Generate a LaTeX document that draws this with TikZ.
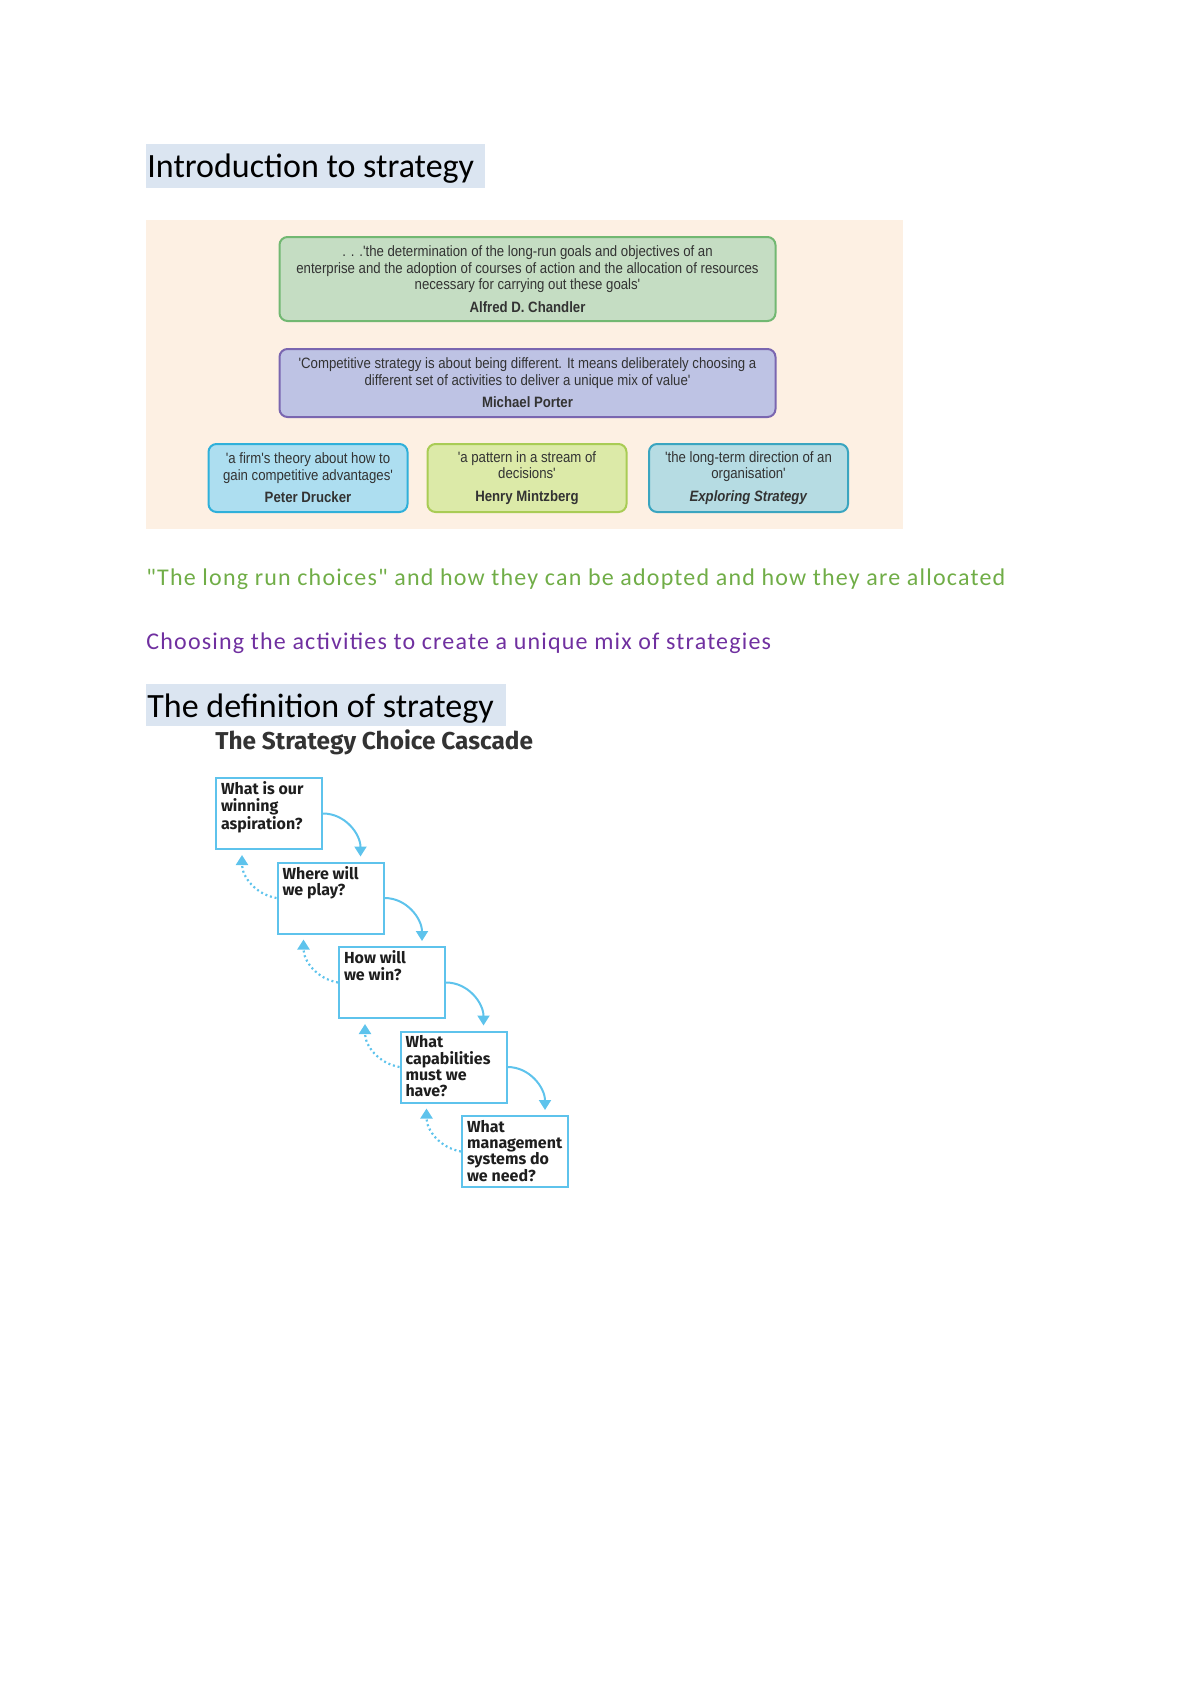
\documentclass[tikz,border=0pt]{standalone}
\usepackage{fontspec}
\setmainfont{Carlito}
\newfontfamily\notefont[LetterSpace=5]{Carlito}
\newfontfamily\quotefont[FakeStretch=0.88]{Liberation Sans}
\newfontfamily\cascadefont{Fira Sans}
\usepackage{tikz}
\tikzset{>=latex}
\usetikzlibrary{arrows.meta}
\definecolor{headblue}{HTML}{DBE5F1}
\definecolor{panelpeach}{HTML}{FDF0E3}
\definecolor{quotegray}{HTML}{333333}
\definecolor{chandlerfill}{HTML}{C5DDC3}
\definecolor{chandlerline}{HTML}{72B872}
\definecolor{porterfill}{HTML}{BEC3E4}
\definecolor{porterline}{HTML}{7A66B0}
\definecolor{druckerfill}{HTML}{ADDEF0}
\definecolor{druckerline}{HTML}{2FB0DA}
\definecolor{mintzfill}{HTML}{DCEAA8}
\definecolor{mintzline}{HTML}{A9CC55}
\definecolor{explorefill}{HTML}{B6DCE3}
\definecolor{exploreline}{HTML}{3AA5C0}
\definecolor{notegreen}{HTML}{70AD47}
\definecolor{notepurple}{HTML}{7030A0}
\definecolor{cascadeblue}{HTML}{5EC3EC}
\definecolor{cascadetext}{HTML}{1E1E1E}

\begin{document}
\begin{tikzpicture}[x=0.5pt,y=-0.5pt,
  headtext/.style={anchor=base west, inner sep=0pt, font=\fontsize{17}{20}\selectfont},
  notetext/.style={anchor=base west, inner sep=0pt, font=\notefont\fontsize{12}{14}\selectfont},
  quotebox/.style={draw, rounded corners=4pt, line width=1pt, align=center, inner sep=0pt,
    text=quotegray, font=\quotefont\fontsize{7.5}{8.25}\selectfont},
  qbox/.style={draw=cascadeblue, line width=1pt, anchor=north west, inner xsep=2.5pt, inner ysep=2pt,
    text=cascadetext, font=\cascadefont\bfseries\fontsize{8}{8.2}\selectfont},
  stepdown/.style={->, >={Triangle[width=6pt,length=5pt]}, cascadeblue, line width=1pt},
  stepback/.style={->, >={Triangle[width=6pt,length=5pt]}, cascadeblue, line width=1.1pt,
    dash pattern=on 1pt off 1.4pt}]

		\useasboundingbox (0,0) rectangle (1200,1698);

		% Heading and the quotation panel
		\fill[headblue] (146,144) rectangle (485,188);
		\node[headtext] (head1) at (147,177) {Introduction to strategy};
		\fill[panelpeach] (146,220) rectangle (903,529);

		\node[quotebox, draw=chandlerline, fill=chandlerfill, minimum width=248pt, minimum height=42pt]
		  (chandler) at (527.5,279) {. . .'the determination of the long-run goals and objectives of an\\
		  enterprise and the adoption of courses of action and the allocation of resources\\
		  necessary for carrying out these goals'\\[3pt]\textbf{Alfred D. Chandler}};
		\node[quotebox, draw=porterline, fill=porterfill, minimum width=248pt, minimum height=34pt]
		  (porter) at (527.5,383) {'Competitive strategy is about being different. It means deliberately choosing a\\
		  different set of activities to deliver a unique mix of value'\\[3pt]\textbf{Michael Porter}};

		% The three short definitions
		\foreach \nm/\x/\col/\txt in {
		  drucker/308/drucker/{'a firm's theory about how to\\gain competitive advantages'\\[3pt]\textbf{Peter Drucker}},
		  mintzberg/527/mintz/{'a pattern in a stream of\\decisions'\\[3pt]\textbf{Henry Mintzberg}},
		  exploring/748.5/explore/{'the long-term direction of an\\organisation'\\[3pt]\textbf{\itshape Exploring Strategy}}} {
		  \node[quotebox, draw=\col line, fill=\col fill, minimum width=99.5pt, minimum height=34pt]
		    (\nm) at (\x,478) {\txt};
		}

		% Notes under the panel
		\node[notetext, text=notegreen] (note1) at (146,585)
		  {\char34 The long run choices\char34\ and how they can be adopted and how they are allocated};
		\node[notetext, text=notepurple] (note2) at (146,649)
		  {Choosing the activities to create a unique mix of strategies};

		% Second heading and the cascade
		\fill[headblue] (146,684) rectangle (506,726);
		\node[headtext] (head2) at (147,717) {The definition of strategy};
		\node[anchor=base west, inner sep=0pt, text=quotegray, font=\cascadefont\bfseries\fontsize{12.2}{14}\selectfont]
		  (cascadetitle) at (215,749) {The Strategy Choice Cascade};

		\foreach \i/\txt in {
		  1/{What is our\\winning\\aspiration?},
		  2/{Where will\\we play?},
		  3/{How will\\we win?},
		  4/{What\\capabilities\\must we\\have?},
		  5/{What\\management\\systems do\\we need?}} {
		  \node[qbox] (q\i) at ({215+61.5*(\i-1)},{777+84.5*(\i-1)})
		    {\parbox[c][31.5pt][t]{48pt}{\raggedright\txt}};
		}

		% Down arrows and dotted feedback arrows
		\foreach \i/\j in {1/2,2/3,3/4,4/5} {
		  \draw[stepdown] (q\i.east) to[out=0,in=90] ([xshift=-12pt,yshift=2.5pt]q\j.north east);
		  \draw[stepback] (q\j.west) to[out=170,in=-90] ([xshift=13.5pt,yshift=-2.5pt]q\i.south west);
		}
	\end{tikzpicture}
\end{document}
